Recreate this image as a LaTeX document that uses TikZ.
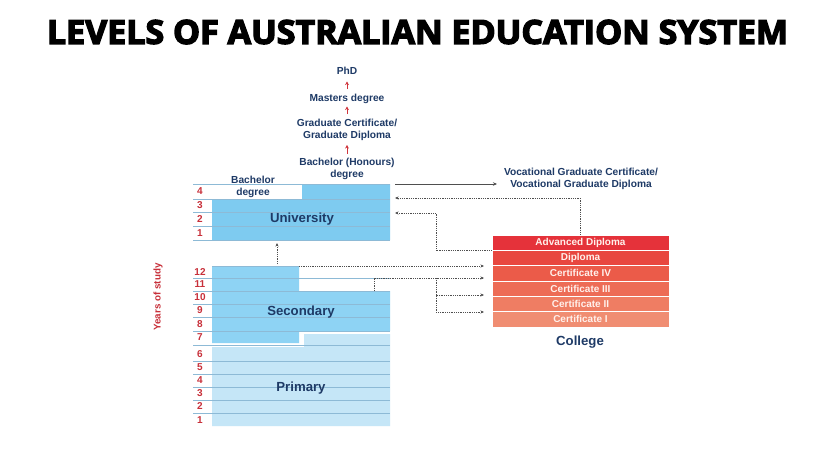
\documentclass[tikz,border=0pt]{standalone}
\usepackage{graphicx}
\usepackage{fontspec}
\setmainfont{Liberation Sans}
\newfontfamily\titlefont[FakeBold=4]{Open Sans}
\usetikzlibrary{arrows.meta}
\definecolor{navy}{HTML}{1E3A66}
\definecolor{numred}{HTML}{C8303A}
\definecolor{unib}{HTML}{7ECBF0}
\definecolor{secb}{HTML}{8ED3F4}
\definecolor{prib}{HTML}{C5E6F7}
\definecolor{rowl}{HTML}{8DBAD6}
\definecolor{conn}{HTML}{4F4F4F}
\definecolor{arrred}{HTML}{D0343C}
\definecolor{colA}{HTML}{E5323A}
\definecolor{colB}{HTML}{E8473F}
\definecolor{colC}{HTML}{EB5B49}
\definecolor{colD}{HTML}{ED6C56}
\definecolor{colE}{HTML}{EF7D63}
\definecolor{colF}{HTML}{F08D72}
\definecolor{coltext}{HTML}{FFF1EC}
\begin{document}
\begin{tikzpicture}[x=1pt,y=-1pt,
  lbl/.style={font=\bfseries\fontsize{10.2}{12}\selectfont, text=navy, inner sep=0pt, align=center},
  big/.style={font=\bfseries\fontsize{13.2}{15}\selectfont, text=navy, inner sep=0pt},
  num/.style={font=\bfseries\fontsize{10}{11}\selectfont, text=numred, inner sep=0pt},
  rowline/.style={draw=rowl, line width=0.6pt},
  colrow/.style={draw=white, line width=0.6pt, minimum width=177pt, minimum height=15.33pt, inner sep=0pt, text=coltext, font=\bfseries\fontsize{10}{11}\selectfont},
  dotarr/.style={draw=conn, line width=0.7pt, dash pattern=on 1pt off 0.8pt, -{Stealth[length=3.5pt,width=3pt]}},
  solidarr/.style={draw=conn, line width=0.9pt, -{Stealth[length=4pt,width=3.5pt]}},
  redarr/.style={draw=arrred, line width=1pt, -{Stealth[length=3.5pt,width=3.8pt]}}
]
\useasboundingbox (0,0) rectangle (820,450);
\fill[white] (0,0) rectangle (820,450);

% title
\node[inner sep=0pt] (title) at (417.5,32) {\resizebox{741pt}{24pt}{\titlefont\bfseries LEVELS OF AUSTRALIAN EDUCATION SYSTEM}};

% blocks
\fill[unib] (212,240) -- (212,199) -- (302,199) -- (302,184) -- (390,184) -- (390,240) -- cycle;
\fill[secb] (212,266) -- (299,266) -- (299,291) -- (390,291) -- (390,331) -- (299,331) -- (299,343) -- (212,343) -- cycle;
\fill[prib] (304,334) -- (390,334) -- (390,426) -- (212,426) -- (212,347) -- (304,347) -- cycle;

% row lines
\foreach \y in {184,199,212,226,240} \draw[rowline] (193,\y) -- (390,\y);
\foreach \y in {278,291,304,317,331} \draw[rowline] (193,\y) -- (390,\y);
\draw[rowline] (212,266) -- (299,266);
\foreach \y in {345,361,374,387,400,413} \draw[rowline] (193,\y) -- (390,\y);

% row numbers
\foreach \n/\y in {4/191.5,3/205.5,2/219,1/233} \node[num] (u\n) at (200,\y) {\n};
\foreach \n/\y in {12/272.5,11/284.5,10/297.5,9/310.5,8/324,7/337} \node[num] (s\n) at (200,\y) {\n};
\foreach \n/\y in {6/354,5/367.5,4/380.5,3/393.5,2/406.5,1/420} \node[num] (p\n) at (200,\y) {\n};

\node[num, font=\bfseries\fontsize{9.8}{10}\selectfont, rotate=90] (years) at (158,297) {Years of study};

% block labels
\node[big] (university) at (302,219) {University};
\node[big] (secondary) at (301,312) {Secondary};
\node[big] (primary) at (301,388) {Primary};
\node[lbl] (bachelor) at (253,186.5) {Bachelor\\degree};

% higher degrees
\node[lbl] (phd) at (347,71) {PhD};
\node[lbl] (masters) at (347,99) {Masters degree};
\node[lbl] (gradcert) at (347,130) {Graduate Certificate/\\Graduate Diploma};
\node[lbl] (bhons) at (347,168.5) {Bachelor (Honours)\\degree};
\coordinate (r1s) at (347,89);
\coordinate (r1e) at (347,81.5);
\coordinate (r2s) at (347,114);
\coordinate (r2e) at (347,106.5);
\coordinate (r3s) at (347,153.5);
\coordinate (r3e) at (347,145);
\draw[redarr] (r1s) -- (r1e);
\draw[redarr] (r2s) -- (r2e);
\draw[redarr] (r3s) -- (r3e);

\node[lbl] (voc) at (581,179) {Vocational Graduate Certificate/\\Vocational Graduate Diploma};

% college
\node[colrow, fill=colA] (adv) at (580.5,242.67) {Advanced Diploma};
\node[colrow, fill=colB] (dip) at (580.5,258) {Diploma};
\node[colrow, fill=colC] (c4) at (580.5,273.33) {Certificate IV};
\node[colrow, fill=colD] (c3) at (580.5,288.67) {Certificate III};
\node[colrow, fill=colE] (c2) at (580.5,304) {Certificate II};
\node[colrow, fill=colF] (c1) at (580.5,319.33) {Certificate I};
\node[big] (college) at (580,342) {College};

% connector coordinates
\coordinate (uniE4) at (395,184);
\coordinate (vocIn) at (497,184);
\coordinate (uniE3) at (395,198);
\coordinate (uniE2) at (395,213);
\coordinate (j2) at (436,213);
\coordinate (secTR) at (299,266);
\coordinate (c4a) at (484,266);
\coordinate (secW) at (374,291);
\coordinate (c4b) at (484,278);
\coordinate (j3) at (436,278);
\coordinate (c3in) at (484,295);
\coordinate (c2in) at (484,312);
\coordinate (secTop) at (277,264);
\coordinate (uniBot) at (277,243);

% connectors
\draw[solidarr] (uniE4) -- (vocIn);
\draw[dotarr] (adv.north) |- (uniE3);
\draw[dotarr] (adv.south west) -| (j2) -- (uniE2);
\draw[dotarr] (secTR) -- (c4a);
\draw[dotarr] (secW) |- (c4b);
\draw[dotarr] (j3) |- (c3in);
\draw[dotarr] (j3) |- (c2in);
\draw[dotarr] (secTop) -- (uniBot);
\end{tikzpicture}
\end{document}
